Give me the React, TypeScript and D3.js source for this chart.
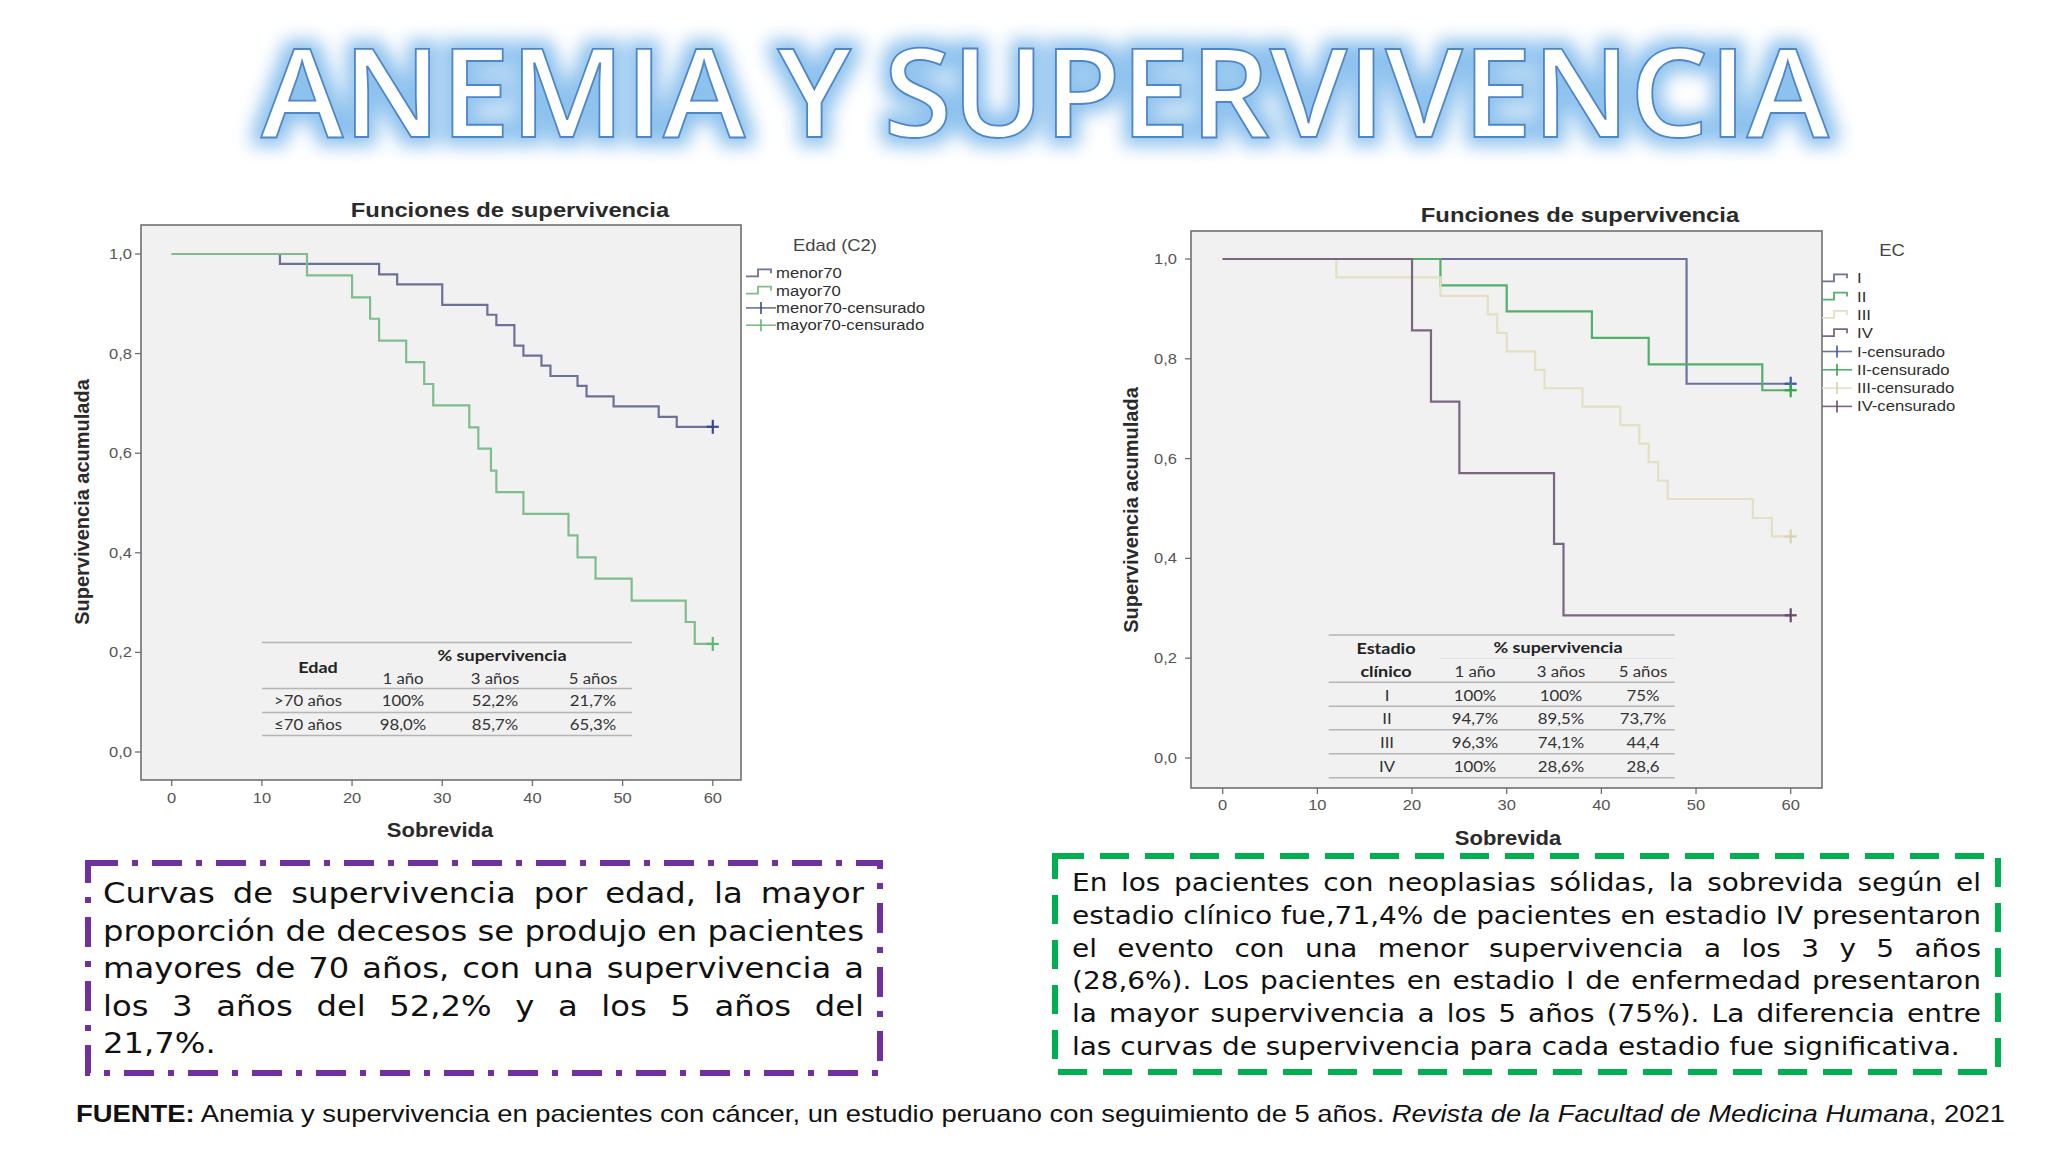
import React from 'react';
import * as d3 from 'd3';

// ---------- texts ----------
const TITLE = 'ANEMIA Y SUPERVIVENCIA';
const CHART_TITLE = 'Funciones de supervivencia';
const X_LABEL = 'Sobrevida';
const Y_LABEL = 'Supervivencia acumulada';
const xTickValues = [0, 10, 20, 30, 40, 50, 60];
const yTickValues = [0, 0.2, 0.4, 0.6, 0.8, 1.0];
const END_TIME = 60;

// ---------- left chart: age ----------
const menor70Times = [0, 12, 23, 25, 30, 35, 36, 38, 39, 41, 42, 45, 46, 49, 54, 56];
const menor70Surv = [1, 0.98, 0.959, 0.939, 0.898, 0.878, 0.857, 0.816, 0.796, 0.776, 0.755, 0.735, 0.714, 0.694, 0.673, 0.653];
const mayor70Times = [0, 15, 20, 22, 23, 26, 28, 29, 33, 34, 35.4, 36, 39, 44, 45, 47, 51, 57, 58];
const mayor70Surv = [1, 0.957, 0.913, 0.87, 0.826, 0.783, 0.739, 0.696, 0.652, 0.609, 0.565, 0.522, 0.478, 0.435, 0.391, 0.348, 0.304, 0.261, 0.217];
const edadLegendTitle = 'Edad (C2)';
const edadLegendLabels = ['menor70', 'mayor70', 'menor70-censurado', 'mayor70-censurado'];
const edadTableHead = 'Edad';
const tableCols = ['1 año', '3 años', '5 años'];
const tableGroupHead = '% supervivencia';
const edadRows = ['>70 años', '≤70 años'];
const edad1 = ['100%', '98,0%'];
const edad3 = ['52,2%', '85,7%'];
const edad5 = ['21,7%', '65,3%'];

// ---------- right chart: clinical stage ----------
const stageITimes = [0, 49];
const stageISurv = [1, 0.75];
const stageIITimes = [0, 23, 30, 39, 45, 57];
const stageIISurv = [1, 0.947, 0.895, 0.842, 0.789, 0.737];
const stageIIITimes = [0, 12, 23, 28, 29, 30, 33, 34, 38, 42, 44, 45, 46, 47, 56, 58];
const stageIIISurv = [1, 0.963, 0.926, 0.889, 0.852, 0.815, 0.778, 0.741, 0.704, 0.667, 0.63, 0.593, 0.556, 0.519, 0.481, 0.444];
const stageIVTimes = [0, 20, 22, 25, 35, 36];
const stageIVSurv = [1, 0.857, 0.714, 0.571, 0.429, 0.286];
const ecLegendTitle = 'EC';
const ecLegendLabels = ['I', 'II', 'III', 'IV', 'I-censurado', 'II-censurado', 'III-censurado', 'IV-censurado'];
const ecTableHead = ['Estadio', 'clínico'];
const ecRows = ['I', 'II', 'III', 'IV'];
const ec1 = ['100%', '94,7%', '96,3%', '100%'];
const ec3 = ['100%', '89,5%', '74,1%', '28,6%'];
const ec5 = ['75%', '73,7%', '44,4', '28,6'];

// ---------- paragraphs ----------
const leftParagraph = [
  'Curvas de supervivencia por edad, la mayor',
  'proporción de decesos se produjo en pacientes',
  'mayores de 70 años, con una supervivencia a',
  'los 3 años del 52,2% y a los 5 años del',
  '21,7%.',
];
const rightParagraph = [
  'En los pacientes con neoplasias sólidas, la sobrevida según el',
  'estadio clínico fue,71,4% de pacientes en estadio IV presentaron',
  'el evento con una menor supervivencia a los 3 y 5 años',
  '(28,6%). Los pacientes en estadio I de enfermedad presentaron',
  'la mayor supervivencia a los 5 años (75%). La diferencia entre',
  'las curvas de supervivencia para cada estadio fue significativa.',
];
const footerBold = 'FUENTE:';
const footerText = ' Anemia y supervivencia en pacientes con cáncer, un estudio peruano con seguimiento de 5 años. ';
const footerItalic = 'Revista de la Facultad de Medicina Humana';
const footerEnd = ', 2021';

// ---------- helpers ----------
const CHART_FONT = "'Liberation Sans', Arial, sans-serif";
const TABLE_FONT = "Lato, 'Liberation Sans', sans-serif";
const PARA_FONT = "'DejaVu Sans', Verdana, sans-serif";
const ST = 1.1;

let measureCtx: CanvasRenderingContext2D | null = null;
function textWidth(t: string, font: string): number {
  if (!measureCtx) {
    try {
      measureCtx = document.createElement('canvas').getContext('2d');
    } catch (e) {
      measureCtx = null;
    }
  }
  if (!measureCtx) return t.length * 10;
  measureCtx.font = font;
  return measureCtx.measureText(t).width;
}

function SText(props: any) {
  const { x, y, size, weight = 'normal', anchor = 'middle', fill = '#333', family = CHART_FONT, sx = ST, rotate, children, style } = props;
  return (
    <text
      transform={`translate(${x},${y})${rotate ? ` rotate(${rotate})` : ''} scale(${sx},1)`}
      fontSize={size}
      fontWeight={weight}
      textAnchor={anchor}
      fill={fill}
      fontFamily={family}
      style={style}
    >
      {children}
    </text>
  );
}

type Series = { times: number[]; surv: number[]; color: string; censor: string };

function KMChart(props: any) {
  const { frame, xRange, yRange, series, titlePos, xLabelPos, yLabelPos, yTickX, xTickY, legend, table } = props;
  const x = d3.scaleLinear().domain([0, 60]).range(xRange);
  const y = d3.scaleLinear().domain([0, 1]).range(yRange);
  const line = d3
    .line<[number, number]>()
    .x((d) => x(d[0]))
    .y((d) => y(d[1]))
    .curve(d3.curveStepAfter);
  const fmt = (v: number) => d3.format('.1f')(v).replace('.', ',');
  return (
    <g>
      <rect x={frame.l} y={frame.t} width={frame.r - frame.l} height={frame.b - frame.t} fill="#f1f1f1" stroke="#707070" strokeWidth={1.6} />
      {yTickValues.map((v) => (
        <g key={'y' + v}>
          <line x1={frame.l - 6} x2={frame.l} y1={y(v)} y2={y(v)} stroke="#707070" strokeWidth={1.3} />
          <SText x={yTickX} y={y(v) + 5} size={15} anchor="end" fill="#555">
            {fmt(v)}
          </SText>
        </g>
      ))}
      {xTickValues.map((v) => (
        <g key={'x' + v}>
          <line x1={x(v)} x2={x(v)} y1={frame.b} y2={frame.b + 6} stroke="#707070" strokeWidth={1.3} />
          <SText x={x(v)} y={xTickY} size={15} fill="#555">
            {v}
          </SText>
        </g>
      ))}
      {series.map((s: Series, i: number) => {
        const pts: [number, number][] = s.times.map((t, j) => [t, s.surv[j]] as [number, number]);
        pts.push([END_TIME, s.surv[s.surv.length - 1]]);
        return <path key={'s' + i} d={line(pts) || ''} fill="none" stroke={s.color} strokeWidth={2.2} />;
      })}
      {series.map((s: Series, i: number) => {
        const cx = x(END_TIME);
        const cy = y(s.surv[s.surv.length - 1]);
        return (
          <g key={'c' + i} stroke={s.censor} strokeWidth={2.2}>
            <line x1={cx - 6} x2={cx + 6} y1={cy} y2={cy} />
            <line x1={cx} x2={cx} y1={cy - 7} y2={cy + 7} />
          </g>
        );
      })}
      <SText x={titlePos[0]} y={titlePos[1]} size={20.5} weight="bold" fill="#2a2a2a" sx={1.16}>
        {CHART_TITLE}
      </SText>
      <SText x={xLabelPos[0]} y={xLabelPos[1]} size={20} weight="bold" fill="#2a2a2a">
        {X_LABEL}
      </SText>
      <SText x={yLabelPos[0]} y={yLabelPos[1]} size={20} weight="bold" fill="#2a2a2a" rotate={-90} sx={1}>
        {Y_LABEL}
      </SText>
      {/* legend */}
      <SText x={legend.titleX} y={legend.titleY} size={16} fill="#444" sx={1.15}>
        {legend.title}
      </SText>
      {legend.labels.map((lab: string, i: number) => {
        const ly = legend.ys[i];
        const s: Series = legend.series[i % legend.series.length];
        const censored = i >= legend.series.length;
        const x0 = legend.x0;
        return (
          <g key={'l' + i}>
            {censored ? (
              <g stroke={s.censor} strokeWidth={1.6}>
                <line x1={x0} x2={x0 + 30} y1={ly} y2={ly} stroke={s.color} />
                <line x1={x0 + 15} x2={x0 + 15} y1={ly - 6} y2={ly + 6} />
              </g>
            ) : (
              <path d={`M${x0},${ly + 3}H${x0 + 12}V${ly - 4}H${x0 + 25}V${ly}`} fill="none" stroke={s.color} strokeWidth={1.8} />
            )}
            <SText x={legend.textX} y={ly + 5} size={14.5} anchor="start" fill="#2e2e2e" sx={1.15}>
              {lab}
            </SText>
          </g>
        );
      })}
      {table}
    </g>
  );
}

function TText(props: any) {
  const { x, y, bold, children, fill } = props;
  return (
    <SText x={x} y={y} size={15} weight={bold ? 'bold' : 'normal'} family={TABLE_FONT} fill={fill || (bold ? '#222' : '#333')} sx={bold ? 1.2 : 1.12}>
      {children}
    </SText>
  );
}

function Paragraph(props: any) {
  const { lines, x, width, baselines, size, fill = '#111' } = props;
  const font = `${size}px ${PARA_FONT}`;
  const space = textWidth(' ', font);
  const naturals = lines.slice(0, -1).map((l: string) => textWidth(l, font));
  const sx = width / Math.max(...naturals);
  return (
    <g>
      {lines.map((line: string, i: number) => {
        const words = line.split(' ');
        const ws = words.map((w) => textWidth(w, font) * sx);
        const total = ws.reduce((a, b) => a + b, 0);
        const last = i === lines.length - 1;
        const gap = last || words.length < 2 ? space * sx : (width - total) / (words.length - 1);
        let cx = x;
        return words.map((w, j) => {
          const el = (
            <text
              key={i + '-' + j}
              transform={`translate(${cx},${baselines[i]}) scale(${sx},1)`}
              fontSize={size}
              fontFamily={PARA_FONT}
              fill={fill}
            >
              {w}
            </text>
          );
          cx += ws[j] + gap;
          return el;
        });
      })}
    </g>
  );
}

export default function App() {
  const left = {
    menor: { times: menor70Times, surv: menor70Surv, color: '#6c7198', censor: '#3b4a8c' },
    mayor: { times: mayor70Times, surv: mayor70Surv, color: '#80bd8c', censor: '#5fb870' },
  };
  const right = {
    I: { times: stageITimes, surv: stageISurv, color: '#6a73a0', censor: '#3b56ad' },
    II: { times: stageIITimes, surv: stageIISurv, color: '#52b06c', censor: '#2da84a' },
    III: { times: stageIIITimes, surv: stageIIISurv, color: '#e4e0c2', censor: '#d6d3a8' },
    IV: { times: stageIVTimes, surv: stageIVSurv, color: '#7b6681', censor: '#6a4a6a' },
  };

  const leftTable = (
    <g>
      {[642.5, 688.5, 712.5, 735.5].map((yy, i) => (
        <line key={i} x1={262} x2={632} y1={yy} y2={yy} stroke="#b5b5b5" strokeWidth={1.6} />
      ))}
      <TText x={318} y={673} bold>{edadTableHead}</TText>
      <TText x={502} y={661} bold>{tableGroupHead}</TText>
      {tableCols.map((c, i) => (
        <TText key={c} x={[403, 495, 593][i]} y={684}>{c}</TText>
      ))}
      {edadRows.map((r, i) => {
        const yy = [706, 730][i];
        return (
          <g key={r}>
            <TText x={308} y={yy}>{r}</TText>
            <TText x={403} y={yy}>{edad1[i]}</TText>
            <TText x={495} y={yy}>{edad3[i]}</TText>
            <TText x={593} y={yy}>{edad5[i]}</TText>
          </g>
        );
      })}
    </g>
  );

  const rightTable = (
    <g>
      {[635, 682.3, 706.2, 729.8, 753.7, 777.7].map((yy, i) => (
        <line key={i} x1={1328.7} x2={1674.6} y1={yy} y2={yy} stroke="#b5b5b5" strokeWidth={1.6} />
      ))}
      <line x1={1440} x2={1674.6} y1={658.5} y2={658.5} stroke="#e2e2e2" strokeWidth={1.2} />
      <TText x={1386} y={654} bold>{ecTableHead[0]}</TText>
      <TText x={1386} y={677} bold>{ecTableHead[1]}</TText>
      <TText x={1558} y={653} bold>{tableGroupHead}</TText>
      {tableCols.map((c, i) => (
        <TText key={c} x={[1475, 1561, 1643][i]} y={677}>{c}</TText>
      ))}
      {ecRows.map((r, i) => {
        const yy = [700.5, 724.3, 748, 771.8][i];
        return (
          <g key={r}>
            <TText x={1387} y={yy}>{r}</TText>
            <TText x={1475} y={yy}>{ec1[i]}</TText>
            <TText x={1561} y={yy}>{ec3[i]}</TText>
            <TText x={1643} y={yy}>{ec5[i]}</TText>
          </g>
        );
      })}
    </g>
  );

  // title sizing
  const titleFont = `600 124px 'Open Sans'`;
  const titleNat = textWidth(TITLE, titleFont);
  const titleSx = 1568 / titleNat;

  // footer sizing
  const fSize = 24;
  const fw =
    textWidth(footerBold, `bold ${fSize}px 'Liberation Sans'`) +
    textWidth(footerText, `${fSize}px 'Liberation Sans'`) +
    textWidth(footerItalic, `italic ${fSize}px 'Liberation Sans'`) +
    textWidth(footerEnd, `${fSize}px 'Liberation Sans'`);
  const footerSx = 1931 / fw;

  return (
    <svg width={2048} height={1152} style={{ position: 'absolute', left: 0, top: 0, background: '#fff' }}>
      <defs>
        <filter id="glow" x="-10%" y="-60%" width="120%" height="220%">
          <feMorphology in="SourceAlpha" operator="dilate" radius="8" result="d" />
          <feGaussianBlur in="d" stdDeviation="9" result="b" />
          <feFlood floodColor="#8ec2ee" floodOpacity="1" />
          <feComposite in2="b" operator="in" result="glow" />
          <feMerge>
            <feMergeNode in="glow" />
            <feMergeNode in="SourceGraphic" />
          </feMerge>
        </filter>
      </defs>
      <rect x={0} y={0} width={2048} height={1152} fill="#fff" />

      {/* Title */}
      <g filter="url(#glow)">
        <text
          transform={`translate(1045,137) scale(${titleSx},1)`}
          fontFamily="'Open Sans', sans-serif"
          fontWeight={600}
          fontSize={124}
          textAnchor="middle"
          fill="#ffffff"
          stroke="#4f86c6"
          strokeWidth={1.8}
        >
          {TITLE}
        </text>
      </g>

      <KMChart
        frame={{ l: 141, r: 741, t: 225, b: 780 }}
        xRange={[171.7, 712.8]}
        yRange={[752, 254]}
        series={[left.menor, left.mayor]}
        titlePos={[510, 217]}
        xLabelPos={[440, 837]}
        yLabelPos={[89, 502]}
        yTickX={132}
        xTickY={803}
        legend={{
          title: edadLegendTitle,
          titleX: 835,
          titleY: 251,
          labels: edadLegendLabels,
          series: [left.menor, left.mayor],
          x0: 746,
          textX: 776,
          ys: [273.3, 290.6, 307.9, 325.2],
        }}
        table={leftTable}
      />

      <KMChart
        frame={{ l: 1191, r: 1822, t: 231, b: 788 }}
        xRange={[1222.7, 1790.7]}
        yRange={[758, 259]}
        series={[right.I, right.II, right.III, right.IV]}
        titlePos={[1580, 222]}
        xLabelPos={[1508, 845]}
        yLabelPos={[1138, 510]}
        yTickX={1177}
        xTickY={810}
        legend={{
          title: ecLegendTitle,
          titleX: 1892,
          titleY: 256,
          labels: ecLegendLabels,
          series: [right.I, right.II, right.III, right.IV],
          x0: 1822,
          textX: 1857,
          ys: [278.3, 296.6, 314.9, 333.2, 351.5, 369.8, 388.1, 406.4],
        }}
        table={rightTable}
      />

      {/* text boxes */}
      <rect x={88} y={863} width={792} height={210} fill="none" stroke="#7030a0" strokeWidth={6} strokeDasharray="30 14 6 14" />
      <Paragraph lines={leftParagraph} x={103} width={761} baselines={[903, 940.5, 978, 1015.5, 1053]} size={29} />

      <rect x={1055} y={856} width={943} height={216} fill="none" stroke="#00b050" strokeWidth={6} strokeDasharray="29 16" />
      <Paragraph lines={rightParagraph} x={1072} width={909} baselines={[890.7, 923.5, 956.5, 989.3, 1022.3, 1055]} size={24} />

      {/* footer */}
      <text transform={`translate(76,1121.5) scale(${footerSx},1)`} fontFamily="'Liberation Sans', Arial, sans-serif" fontSize={fSize} fill="#111">
        <tspan fontWeight="bold">{footerBold}</tspan>
        <tspan>{footerText}</tspan>
        <tspan fontStyle="italic">{footerItalic}</tspan>
        <tspan>{footerEnd}</tspan>
      </text>
    </svg>
  );
}
